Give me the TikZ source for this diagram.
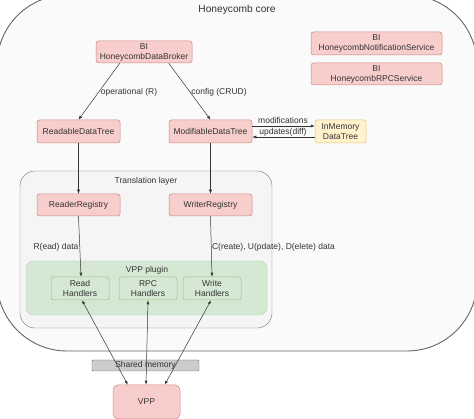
\documentclass[tikz,border=0pt]{standalone}
\usepackage{fontspec}
\setmainfont{Liberation Sans}
\usetikzlibrary{arrows.meta,calc}
\definecolor{pinkfill}{HTML}{F8CECC}
\definecolor{pinkline}{HTML}{B85450}
\definecolor{greenfill}{HTML}{D5E8D4}
\definecolor{greenline}{HTML}{82B366}
\definecolor{yelfill}{HTML}{FFF2CC}
\definecolor{yelline}{HTML}{D6B656}
\definecolor{txt}{HTML}{333333}
\tikzset{
  every node/.style={text=txt, font=\fontsize{8.5}{10}\selectfont},
  pinkbox/.style={draw=pinkline!70, fill=pinkfill, rounded corners=2.5pt, align=center, inner sep=0pt, line width=0.5pt},
  greenbox/.style={draw=greenline!80, fill=greenfill, rounded corners=2.5pt, align=center, inner sep=0pt, line width=0.5pt},
  yelbox/.style={draw=yelline!80, fill=yelfill, rounded corners=2.5pt, align=center, inner sep=0pt, line width=0.5pt},
  conn/.style={draw=black!80, line width=0.5pt, -{Latex[length=4pt,width=3pt]}},
  bconn/.style={draw=black!80, line width=0.5pt, {Latex[length=4pt,width=3pt]}-{Latex[length=4pt,width=3pt]}},
  lbl/.style={inner sep=0pt}
}
\begin{document}
\begin{tikzpicture}[x=1pt,y=-1pt]
\useasboundingbox (0,0) rectangle (474,419);
% outer core
\node[draw=black!60, fill=black!2, line width=0.9pt, rounded corners=70pt, minimum width=480pt, minimum height=356pt, inner sep=0pt] (core) at (237,173) {};
\node[font=\fontsize{10.2}{12}\selectfont] (coretitle) at (237,10) {Honeycomb core};
% top boxes
\node[pinkbox, minimum width=96pt, minimum height=22pt] (broker) at (144,52) {BI\\HoneycombDataBroker};
\node[pinkbox, minimum width=131pt, minimum height=23pt] (notif) at (376.5,43.5) {BI\\HoneycombNotificationService};
\node[pinkbox, minimum width=131pt, minimum height=22pt] (rpcs) at (376.5,74) {BI\\HoneycombRPCService};
\node[pinkbox, minimum width=83pt, minimum height=23pt] (readable) at (78.5,131.5) {ReadableDataTree};
\node[pinkbox, minimum width=83pt, minimum height=23pt] (modifiable) at (210.5,131.5) {ModifiableDataTree};
\node[yelbox, minimum width=51pt, minimum height=23pt] (inmem) at (340.5,131.5) {InMemory\\DataTree};
% translation layer
\node[draw=black!55, fill=black!4, rounded corners=15pt, minimum width=252pt, minimum height=157pt, inner sep=0pt] (trans) at (146,249.5) {};
\node (translbl) at (146,181) {Translation layer};
\node[pinkbox, minimum width=83pt, minimum height=22pt] (readerreg) at (78.5,205) {ReaderRegistry};
\node[pinkbox, minimum width=83pt, minimum height=22pt] (writerreg) at (210.5,205) {WriterRegistry};
% vpp plugin
\node[draw=greenline!60, fill=greenfill, rounded corners=8pt, minimum width=241pt, minimum height=54pt, inner sep=0pt] (plugin) at (146.5,288) {};
\node (pluginlbl) at (147,270) {VPP plugin};
\node[greenbox, minimum width=58pt, minimum height=23pt] (readh) at (80,288.5) {Read\\Handlers};
\node[greenbox, minimum width=58pt, minimum height=23pt] (rpch) at (148,288.5) {RPC\\Handlers};
\node[greenbox, minimum width=58pt, minimum height=23pt] (writeh) at (212,288.5) {Write\\Handlers};
% shared memory and vpp
\node[draw=black!60, fill=black!20, rounded corners=1pt, minimum width=107pt, minimum height=11pt, inner sep=0pt] (shm) at (145.5,365.5) {Shared memory};
\node[pinkbox, minimum width=67pt, minimum height=34pt, rounded corners=5pt] (vpp) at (146.5,402) {VPP};
% connectors
\draw[conn] ($(broker.south west)+(24,0)$) -- (readable.north);
\draw[conn] ($(broker.south west)+(73,0)$) -- (modifiable.north);
\node[lbl] (oplbl) at (129,92) {operational (R)};
\node[lbl] (cfglbl) at (219,92) {config (CRUD)};
\draw[conn] ([yshift=5.5pt]modifiable.east) -- ([yshift=5.5pt]inmem.west);
\draw[conn] ([yshift=-5.5pt]inmem.west) -- ([yshift=-5.5pt]modifiable.east);
\node[lbl] (modlbl) at (283,120) {modifications};
\node[lbl] (updlbl) at (283,132) {updates(diff)};
\draw[conn] (readable.south) -- (readerreg.north);
\draw[conn] (modifiable.south) -- (writerreg.north);
\draw[conn] (readerreg.south) -- ([xshift=1pt]readh.north);
\draw[conn] (writerreg.south) -- (writeh.north);
\node[lbl] (rdlbl) at (56,247) {R(ead) data};
\node[lbl] (cudlbl) at (273.5,247) {C(reate), U(pdate), D(elete) data};
\draw[bconn] ([xshift=2pt]readh.south) -- ([xshift=15pt]vpp.north west);
\draw[bconn] (rpch.south) -- ([xshift=-0.5pt]vpp.north);
\draw[bconn] ([xshift=-1pt]writeh.south) -- ([xshift=52pt]vpp.north west);
\end{tikzpicture}
\end{document}
